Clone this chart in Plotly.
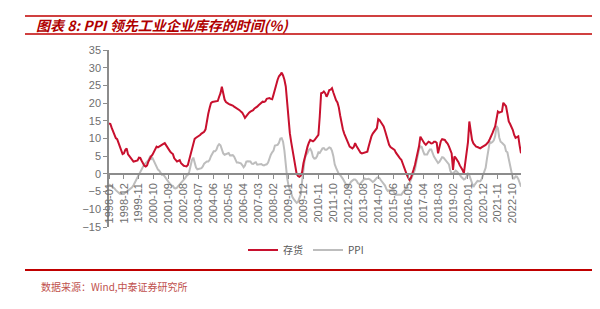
import plotly.graph_objects as go

# ---------------- data ----------------
start_year, start_month, n_months = 1998, 1, 304
months = []
y, m = start_year, start_month
for _ in range(n_months):
    months.append(f"{y}-{m:02d}")
    m += 1
    if m > 12:
        m = 1
        y += 1

inventory = [
    # 1998
    14.3, 14.1, 13.0, 12.0, 10.6, 10.1, 9.8, 8.8, 7.8, 7.0, 5.6, 5.8,
    # 1999
    6.8, 7.2, 5.5, 5.0, 4.4, 4.0, 3.5, 3.6, 3.6, 3.8, 4.6, 4.5,
    # 2000
    3.7, 3.0, 2.3, 2.1, 2.4, 3.5, 4.3, 5.0, 5.4, 6.2, 6.8, 7.7,
    # 2001
    7.5, 7.8, 7.9, 8.2, 8.5, 8.7, 8.0, 7.6, 6.9, 6.3, 5.9, 5.6,
    # 2002
    4.4, 4.0, 3.5, 3.7, 3.9, 3.0, 2.6, 2.3, 2.2, 2.1, 2.5, 4.0,
    # 2003
    6.0, 7.3, 9.0, 9.9, 10.2, 10.4, 10.6, 11.0, 11.4, 11.7, 11.9, 12.6,
    # 2004
    15.2, 17.0, 18.6, 20.0, 20.3, 20.4, 20.3, 20.4, 20.6, 21.8, 22.8, 24.6,
    # 2005
    22.8, 21.0, 20.3, 19.9, 19.8, 19.6, 19.5, 19.3, 19.0, 18.8, 18.5, 18.2,
    # 2006
    18.0, 17.6, 17.3, 16.6, 15.8, 16.3, 16.9, 17.3, 17.6, 17.8, 18.0, 18.5,
    # 2007
    18.7, 19.0, 19.4, 19.8, 20.1, 20.4, 20.3, 20.5, 21.2, 21.4, 21.4, 21.2,
    # 2008
    21.1, 22.4, 23.5, 25.2, 26.6, 27.6, 28.0, 28.6, 27.8, 26.6, 24.7, 19.5,
    # 2009
    14.8, 11.5, 9.0, 6.5, 4.0, 1.8, 0.0, -0.6, -0.8, -0.5, 0.5, 3.0,
    # 2010
    4.9, 6.6, 7.7, 8.8, 9.6, 9.4, 9.2, 9.5, 10.1, 10.7, 11.0, 16.2,
    # 2011
    22.8, 22.9, 23.3, 22.8, 21.8, 22.6, 23.7, 23.8, 24.2, 23.0, 21.8, 20.8,
    # 2012
    20.2, 18.8, 16.5, 14.2, 12.6, 11.4, 10.6, 9.6, 8.6, 7.7, 7.4, 7.2,
    # 2013
    7.6, 8.7, 7.9, 7.2, 6.5, 6.0, 5.8, 5.9, 6.0, 6.2, 6.3, 7.8,
    # 2014
    9.6, 10.6, 11.4, 12.0, 12.4, 12.9, 15.5, 15.2, 14.6, 14.0, 13.4, 12.2,
    # 2015
    10.8, 9.5, 8.2, 7.6, 7.3, 7.2, 6.8, 6.0, 5.4, 4.9, 4.4, 4.0,
    # 2016
    2.8, 1.6, 0.7, -0.2, -1.0, -1.7, -1.2, -0.2, 1.2, 2.5, 4.0, 6.0,
    # 2017
    7.8, 10.5, 9.8, 9.1, 8.6, 8.2, 8.8, 9.1, 8.9, 8.6, 8.7, 9.1,
    # 2018
    9.1, 8.8, 5.8, 8.0, 9.2, 9.8, 9.8, 9.6, 9.0, 8.6, 7.8, 6.8,
    # 2019
    5.8, 1.1, 4.9, 4.5, 4.0, 3.3, 2.4, 1.8, 1.1, 0.2, 3.5, 6.0,
    # 2020
    9.0, 14.8, 11.5, 9.6, 8.6, 8.0, 7.7, 7.6, 7.4, 7.2, 7.5, 7.7,
    # 2021
    7.8, 8.2, 8.6, 9.0, 9.8, 10.5, 11.5, 12.5, 13.4, 15.5, 17.6, 17.3,
    # 2022
    17.4, 17.6, 20.1, 19.6, 19.1, 17.0, 14.8, 14.1, 13.4, 12.4, 11.0, 10.2,
    # 2023
    10.4, 10.6, 8.0, 5.8,
]

ppi = [
    # 1998
    -2.9, -3.2, -3.4, -3.8, -4.1, -4.6, -5.0, -5.3, -5.6, -5.7, -5.7, -5.7,
    # 1999
    -5.3, -5.0, -4.8, -4.6, -4.3, -3.8, -3.2, -2.4, -1.6, -0.9, -0.2, 0.7,
    # 2000
    1.5, 2.0, 2.6, 3.0, 3.4, 3.9, 4.7, 4.2, 4.5, 3.6, 2.7, 1.9,
    # 2001
    1.2, 0.9, 0.4, -0.3, -0.2, -0.8, -1.5, -1.9, -2.4, -2.8, -3.3, -3.4,
    # 2002
    -4.0, -4.1, -3.9, -3.4, -3.0, -2.6, -2.1, -1.6, -1.2, -0.6, -0.3, 0.6,
    # 2003
    2.6, 3.9, 4.6, 3.3, 1.8, 1.3, 1.4, 1.7, 1.6, 2.1, 2.9, 3.2,
    # 2004
    3.5, 3.5, 4.0, 5.0, 5.8, 6.4, 6.4, 6.8, 7.9, 8.4, 8.1, 7.1,
    # 2005
    5.8, 5.4, 5.6, 5.8, 5.9, 5.2, 5.2, 5.3, 4.9, 4.0, 3.2, 3.2,
    # 2006
    3.0, 3.0, 2.5, 1.9, 2.4, 3.5, 3.6, 3.5, 3.5, 2.9, 2.8, 3.1,
    # 2007
    3.3, 2.6, 2.7, 2.8, 2.8, 2.5, 2.4, 2.6, 2.7, 3.2, 4.6, 5.4,
    # 2008
    6.1, 6.6, 8.0, 8.1, 8.2, 8.8, 10.0, 10.1, 9.1, 6.6, 2.0, -1.1,
    # 2009
    -3.3, -4.5, -6.0, -6.6, -7.2, -7.8, -8.2, -7.9, -7.0, -5.8, -2.1, 1.7,
    # 2010
    4.3, 5.4, 5.9, 6.8, 7.1, 6.4, 4.8, 4.3, 4.4, 5.0, 6.1, 5.9,
    # 2011
    6.6, 7.2, 7.3, 6.8, 6.8, 7.1, 7.5, 7.3, 6.5, 5.0, 2.7, 1.7,
    # 2012
    0.7, 0.0, -0.3, -0.7, -1.4, -2.1, -2.9, -3.5, -3.6, -2.8, -2.2, -1.9,
    # 2013
    -1.6, -1.6, -1.9, -2.6, -2.9, -2.7, -2.3, -1.6, -1.3, -1.5, -1.4, -1.4,
    # 2014
    -1.6, -2.0, -2.3, -2.0, -1.4, -1.1, -0.9, -1.2, -1.8, -2.2, -2.7, -3.3,
    # 2015
    -4.3, -4.8, -4.6, -4.6, -4.6, -4.8, -5.4, -5.9, -5.9, -5.9, -5.9, -5.9,
    # 2016
    -5.3, -4.9, -4.3, -3.4, -2.8, -2.6, -1.7, -0.8, 0.1, 1.2, 3.3, 5.5,
    # 2017
    6.9, 7.8, 7.6, 6.4, 5.5, 5.5, 5.5, 6.3, 6.9, 6.9, 5.8, 4.9,
    # 2018
    4.3, 3.7, 3.1, 3.4, 4.1, 4.7, 4.6, 4.1, 3.6, 3.3, 2.7, 0.9,
    # 2019
    0.1, 0.1, 0.4, 0.9, 0.6, 0.0, -0.3, -0.8, -1.2, -1.6, -1.4, -0.5,
    # 2020
    0.1, -0.4, -1.5, -3.1, -3.7, -3.0, -2.4, -2.0, -2.1, -2.1, -1.5, -0.4,
    # 2021
    0.3, 1.7, 4.4, 6.8, 9.0, 8.8, 9.0, 9.5, 10.7, 13.5, 12.9, 10.3,
    # 2022
    9.1, 8.8, 8.3, 8.0, 6.4, 6.1, 4.2, 2.3, 0.9, -1.3, -1.3, -0.7,
    # 2023
    -0.8, -1.4, -2.5, -3.6,
]

tick_labels = [
    "1998-01", "1998-12", "1999-11", "2000-10", "2001-09", "2002-08",
    "2003-07", "2004-06", "2005-05", "2006-04", "2007-03", "2008-02",
    "2009-01", "2009-12", "2010-11", "2011-10", "2012-09", "2013-08",
    "2014-07", "2015-06", "2016-05", "2017-04", "2018-03", "2019-02",
    "2020-01", "2020-12", "2021-11", "2022-10",
]
y_ticks = [35, 30, 25, 20, 15, 10, 5, 0, -5, -10, -15]

title_text = "图表 8: PPI 领先工业企业库存的时间(%)"
source_text = "数据来源：Wind,中泰证券研究所"

# ---------------- geometry helpers ----------------
W, H = 600, 309
L, R, T, B = 109, 79, 50, 82
pw, ph = W - L - R, H - T - B


def px(xpix):
    return (xpix - L) / pw


def py(ypix):
    return (H - B - ypix) / ph


RED = "#C8102E"
GRAY = "#BDBDBD"
AXIS = "#8C8C8C"
TXT = "#6E6E6E"

fig = go.Figure()
fig.add_trace(go.Scatter(x=months, y=ppi, mode="lines", name="PPI",
                         line=dict(color=GRAY, width=2), legendrank=2))
fig.add_trace(go.Scatter(x=months, y=inventory, mode="lines", name="存货",
                         line=dict(color=RED, width=2), legendrank=1))

ymin, ymax = -15, 35
fig.update_layout(
    width=W, height=H,
    margin=dict(l=L, r=R, t=T, b=B, autoexpand=False),
    paper_bgcolor="white", plot_bgcolor="white",
    font=dict(family="Liberation Sans, Arial, sans-serif", color=TXT, size=11),
    showlegend=True,
    legend=dict(orientation="h", x=px(306), xanchor="center", y=py(250), yanchor="middle",
                font=dict(family="Noto Sans CJK SC", size=10, color="#595959"),
                bgcolor="rgba(0,0,0,0)", itemwidth=30, tracegroupgap=0),
    xaxis=dict(
        type="category", range=[0, n_months - 1],
        tickmode="array", tickvals=tick_labels, ticktext=tick_labels,
        tickangle=-90, ticks="outside", ticklen=4, tickcolor=AXIS,
        showline=True, linecolor=AXIS, linewidth=1.5,
        showgrid=False, zeroline=False,
        anchor="free", position=(0 - ymin) / (ymax - ymin),
        tickfont=dict(size=11, color=TXT),
    ),
    yaxis=dict(
        range=[ymin, ymax], tickmode="array", tickvals=y_ticks,
        ticks="outside", ticklen=4, tickcolor=AXIS,
        showline=True, linecolor=AXIS, linewidth=1.5,
        showgrid=False, zeroline=False,
        tickfont=dict(size=11, color=TXT),
    ),
)

# title block
fig.add_shape(type="line", xref="paper", yref="paper",
              x0=px(25), x1=px(592), y0=py(16), y1=py(16),
              line=dict(color="#C00000", width=1.5))
fig.add_shape(type="line", xref="paper", yref="paper",
              x0=px(25), x1=px(592), y0=py(34), y1=py(34),
              line=dict(color="#C00000", width=1.5))
fig.add_annotation(xref="paper", yref="paper", x=px(34), y=py(25),
                   xanchor="left", yanchor="middle", showarrow=False,
                   text=f"<b><i>{title_text}</i></b>",
                   font=dict(family="Noto Sans CJK SC", size=14, color="#B00000"))

# footer
fig.add_shape(type="line", xref="paper", yref="paper",
              x0=px(25), x1=px(592), y0=py(270), y1=py(270),
              line=dict(color="#C00000", width=2))
fig.add_annotation(xref="paper", yref="paper", x=px(39), y=py(286),
                   xanchor="left", yanchor="middle", showarrow=False,
                   text=source_text,
                   font=dict(family="Noto Sans CJK SC", size=10, color="#C0504D"))

fig.write_html("out.html")
